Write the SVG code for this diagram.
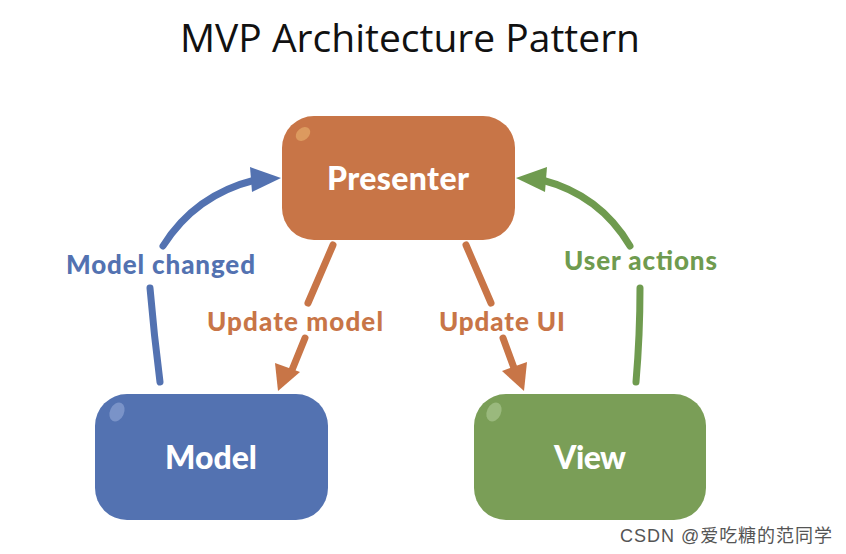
<svg xmlns="http://www.w3.org/2000/svg" width="846" height="554" viewBox="0 0 846 554">
<style>
.t{font-family:"Open Sans","Liberation Sans",sans-serif;font-size:39px;fill:#111}
.n{font-family:Lato,"Liberation Sans",sans-serif;font-weight:900;font-size:32px;fill:#fff;text-anchor:middle}
.l{font-family:Lato,"Liberation Sans",sans-serif;font-weight:900;font-size:26px}
.c{fill:none;stroke-width:7;stroke-linecap:round}
.w{font-family:"Liberation Sans","Noto Sans CJK SC",sans-serif;font-size:18px;fill:#555}
</style>
<rect width="846" height="554" fill="#fff"/>
<text class="t" x="410" y="52" text-anchor="middle" textLength="460">MVP Architecture Pattern</text>
<g id="presenter">
<rect x="282" y="116" width="233" height="124" rx="32" fill="#c87547"/>
<ellipse cx="303" cy="134" rx="8" ry="6" fill="#dc9a5f" transform="rotate(-40 303 134)"/>
<text class="n" x="398" y="190" textLength="142">Presenter</text>
</g>
<g id="model">
<rect x="95" y="394" width="233" height="126" rx="32" fill="#5372b1"/>
<ellipse cx="117" cy="412" rx="7" ry="10" fill="#7a93c8" transform="rotate(25 117 412)"/>
<text class="n" x="211" y="469" textLength="92">Model</text>
</g>
<g id="view">
<rect x="474" y="394" width="232" height="126" rx="32" fill="#7a9e57"/>
<ellipse cx="494" cy="412" rx="7" ry="10" fill="#9ab97d" transform="rotate(25 494 412)"/>
<text class="n" x="590" y="469" textLength="72">View</text>
</g>
<g id="connectors">
<path class="c" stroke="#5372b1" d="M160 382 Q154 335 150 288"/>
<path class="c" stroke="#5372b1" d="M163 246 Q195 195 255 180"/>
<polygon fill="#5372b1" points="281,178 250,167 252,192"/>
<path class="c" stroke="#c87547" d="M333 245 L308 303 M305 338 L292 370"/>
<polygon fill="#c87547" points="278,391 275,363 300,372"/>
<path class="c" stroke="#c87547" d="M466 245 L491 303 M503 338 L514 368"/>
<polygon fill="#c87547" points="524,391 502,371 527,362"/>
<path class="c" stroke="#6f9b4f" d="M636 382 Q640 335 640 288"/>
<path class="c" stroke="#6f9b4f" d="M630 246 Q600 195 542 180"/>
<polygon fill="#6f9b4f" points="516,178 547,167 545,192"/>
</g>
<text class="l" x="66" y="274" fill="#5372b1" textLength="189">Model changed</text>
<text class="l" x="207" y="331" fill="#c87547" textLength="176">Update model</text>
<text class="l" x="439" y="331" fill="#c87547" textLength="126">Update UI</text>
<text class="l" x="564" y="270" fill="#6f9b4f" textLength="153">User actions</text>
<text class="w" x="620" y="542" textLength="212">CSDN @爱吃糖的范同学</text>
</svg>
